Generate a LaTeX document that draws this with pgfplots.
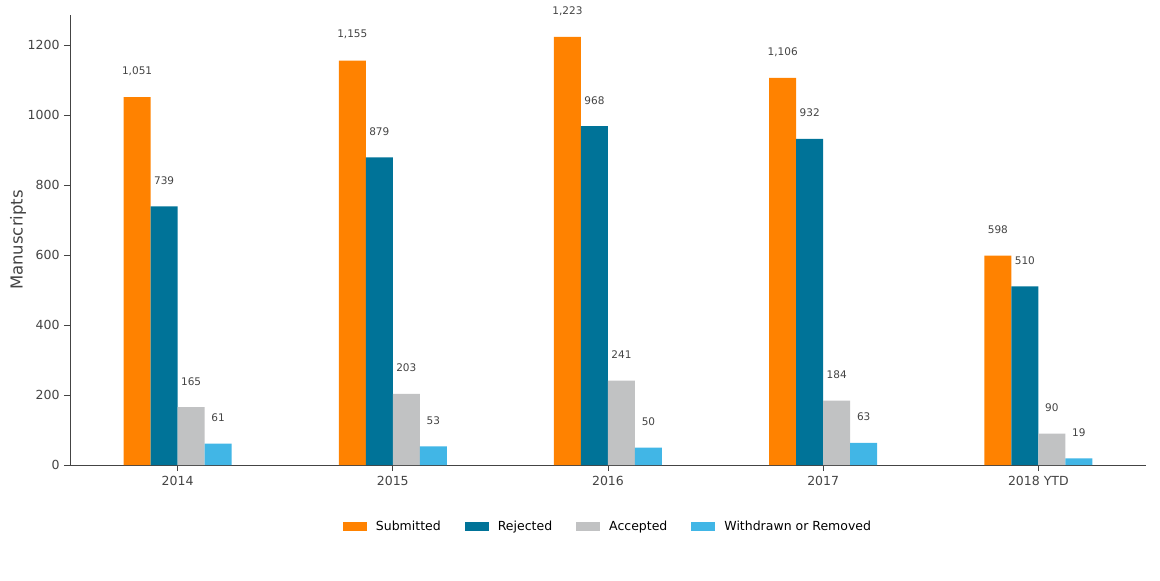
\documentclass[border=0pt]{standalone}
\usepackage{pgfplots}
\pgfplotsset{compat=1.18}
\usepackage{fontspec}
\setmainfont{DejaVu Sans}
\definecolor{cSub}{HTML}{FF8200}
\definecolor{cRej}{HTML}{007398}
\definecolor{cAcc}{HTML}{C1C2C3}
\definecolor{cWit}{HTML}{41B6E6}
\definecolor{txt}{HTML}{444444}
\begin{document}
\begin{tikzpicture}
\path[use as bounding box] (-70pt,-116pt) rectangle (1090pt,465pt);
\begin{axis}[
  at={(0pt,0pt)}, anchor=south west,
  scale only axis,
  width=1076pt, height=450pt,
  ybar=0pt, bar width=27pt,
  xmin=-0.5, xmax=4.5,
  ymin=0, ymax=1285.7,
  xtick=data,
  xticklabels={2014,2015,2016,2017,2018 YTD},
  ytick={0,200,400,600,800,1000,1200},
  axis x line*=bottom, axis y line*=left,
  axis line style={draw=txt, line width=0.9pt},
  tick style={draw=txt, line width=0.9pt},
  tick align=outside, major tick length=6pt,
  /pgf/number format/assume math mode=true,
  /pgf/number format/1000 sep={},
  ticklabel style={font=\fontsize{12.5}{14}\selectfont, text=txt},
  yticklabel style={xshift=-1pt},
  xticklabel style={yshift=-2pt},
  ylabel={Manuscripts},
  ylabel style={at={(axis description cs:-0.0483,0.5)}, anchor=center, font=\fontsize{16.5}{19}\selectfont, text=txt},
  nodes near coords={\pgfmathprintnumber[1000 sep={,}]{\pgfplotspointmeta}},
  every node near coord/.append style={anchor=center, yshift=26pt, font=\fontsize{10.5}{12}\selectfont, text=txt},
  legend columns=4,
  legend style={at={(538pt,-61pt)}, anchor=center, draw=none, fill=none,
    font=\fontsize{12.5}{15}\selectfont,
    /tikz/every odd column/.append style={column sep=7pt},
    /tikz/every even column/.append style={column sep=22pt}},
  legend image code/.code={\fill[#1] (0pt,-4.5pt) rectangle (24pt,4.5pt);},
]
\addplot[fill=cSub, draw=none] coordinates {(0,1051) (1,1155) (2,1223) (3,1106) (4,598)};
\addplot[fill=cRej, draw=none] coordinates {(0,739) (1,879) (2,968) (3,932) (4,510)};
\addplot[fill=cAcc, draw=none] coordinates {(0,165) (1,203) (2,241) (3,184) (4,90)};
\addplot[fill=cWit, draw=none] coordinates {(0,61) (1,53) (2,50) (3,63) (4,19)};
\legend{Submitted, Rejected, Accepted, Withdrawn or Removed}
\end{axis}
\end{tikzpicture}
\end{document}
